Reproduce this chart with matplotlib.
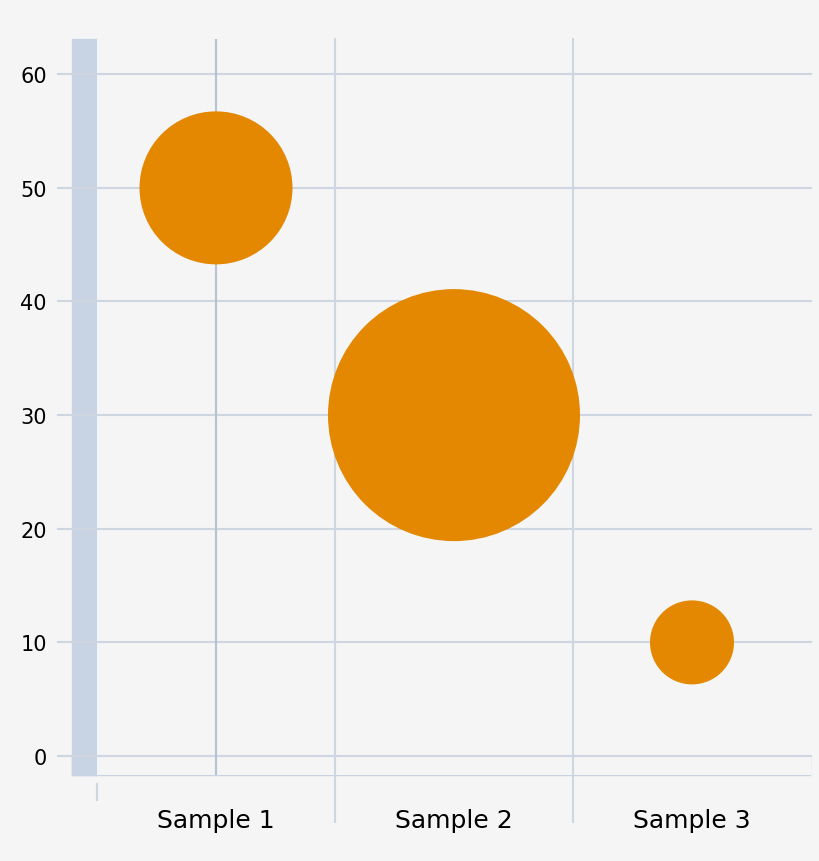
import matplotlib
matplotlib.use("Agg")
import matplotlib.pyplot as plt
from matplotlib.patches import Rectangle

categories = ["Sample 1", "Sample 2", "Sample 3"]
y_values = [50, 30, 10]
bubble_size = [153, 252, 84]  # bubble diameters (px)

W, H = 820, 862
fig = plt.figure(figsize=(8.2, 8.62), dpi=100, facecolor="#f5f5f5")
ax = fig.add_axes([97/W, 1-776/H, (811-97)/W, (776-40)/H])
ax.set_facecolor("#f5f5f5")
ax.set_xlim(-0.5, 2.5)
ax.set_ylim(-1.67, 63.1)
for s in ax.spines.values():
    s.set_visible(False)

grid_c = "#cdd6e1"
for v in range(0, 70, 10):
    ax.plot([-0.5 - 39/238, 2.5], [v, v], color=grid_c, lw=1.5, clip_on=False, zorder=1)
ax.plot([0, 0], [-1.67, 63.1], color="#b5c2d2", lw=1.5, zorder=1)
for xb in [0.5, 1.5]:
    ax.plot([xb, xb], [-5.8, 63.1], color=grid_c, lw=1.5, clip_on=False, zorder=1)
ax.plot([-0.5, -0.5], [-2.5, -3.9], color=grid_c, lw=1.5, clip_on=False, zorder=1)

ax.scatter(range(len(categories)), y_values,
           s=[(d*0.72)**2 for d in bubble_size], color="#e38800", edgecolors="none", zorder=3)

ax.set_yticks(range(0, 70, 10))
ax.set_yticklabels([str(v) for v in range(0, 70, 10)], fontsize=15)
ax.tick_params(axis="y", length=0, pad=36)
ax.set_xticks(range(len(categories)))
ax.set_xticklabels(categories, fontsize=18)
ax.tick_params(axis="x", length=0, pad=24)

band = "#c8d4e3"
fig.patches.append(Rectangle((72/W, 1-776/H), 25/W, (776-40)/H, transform=fig.transFigure, color=band, zorder=0))
fig.patches.append(Rectangle((72/W, 1-776/H), (810-72)/W, 19/H, transform=fig.transFigure, color=band, zorder=0))
ax.set_zorder(1)

fig.savefig("out.png", dpi=100, facecolor=fig.get_facecolor())
